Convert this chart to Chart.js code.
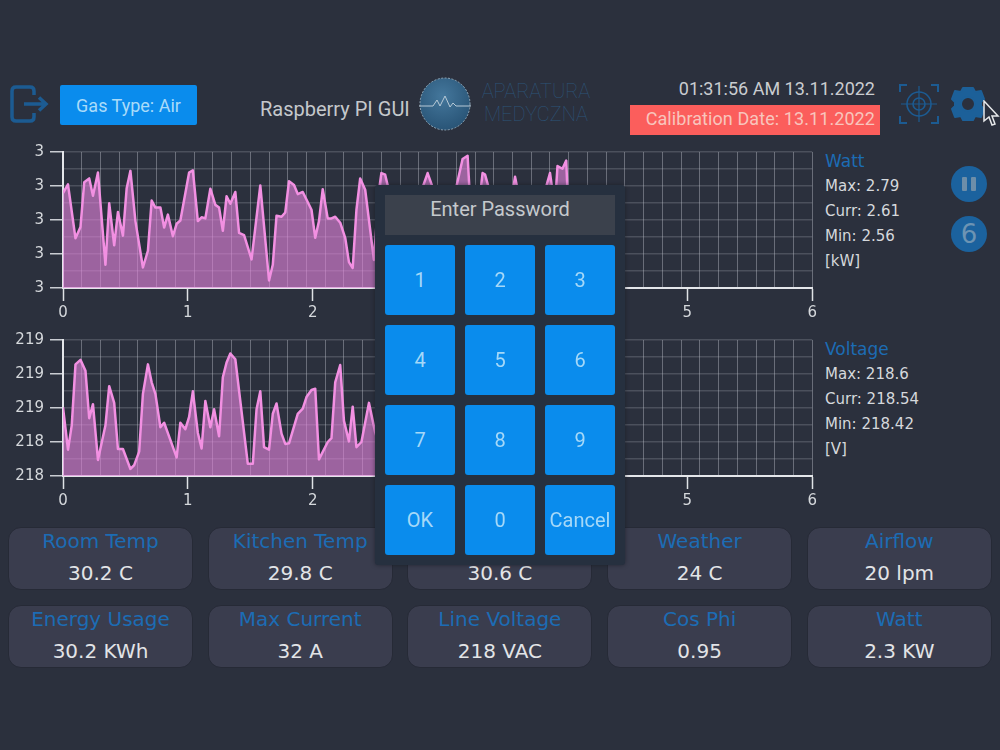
<!DOCTYPE html>
<html>
<head>
<meta charset="utf-8">
<title>Raspberry PI GUI</title>
<script src="https://cdn.jsdelivr.net/npm/chart.js@4"></script>
<style>
html, body { margin: 0; padding: 0; background: #2b303d; }
body { position: relative; width: 1000px; height: 750px; overflow: hidden; font-family: "DejaVu Sans", sans-serif; }
.abs { position: absolute; }
.rb { font-family: Roboto, sans-serif; }
canvas { position: absolute; left: 0; }
.side { position: absolute; left: 825px; font-size: 15px; line-height: 25px; color: #d5d8dc; white-space: pre; }
.side b { display: block; font-weight: normal; font-size: 17px; color: #1c6cb4; }
.card { position: absolute; width: 183px; height: 61px; background: #3a3d4e; border: 1px solid #262a36; border-radius: 13px; text-align: center; }
.card .lbl { position: absolute; left: 0; right: 0; top: 0; font-size: 20px; line-height: 26px; color: #1c6cb4; white-space: nowrap; }
.card .val { position: absolute; left: 0; right: 0; top: 32px; font-size: 20px; line-height: 26px; color: #e2e4e7; white-space: nowrap; }
#modal { position: absolute; left: 375px; top: 185px; width: 250px; height: 380px; background: #26303f; border-radius: 3px; box-shadow: 0 0 4px rgba(20, 24, 32, 0.6); }
#pwd { position: absolute; left: 10px; top: 10px; width: 230px; height: 40px; background: #3b414c; color: #c5c9cd; font: 20px/28px Roboto, sans-serif; text-align: center; }
.key { position: absolute; width: 70px; height: 70px; background: #0a8ced; border-radius: 3px; color: #a5d8f8; font: 20px/70px Roboto, sans-serif; text-align: center; }
</style>
</head>
<body>

<!-- header -->
<svg class="abs" style="left:8px;top:83px" width="42" height="42" viewBox="0 0 42 42" fill="none" stroke="#1c5b92" stroke-width="3.5">
  <path d="M26 12 V8 Q26 4 22 4 H8 Q4 4 4 8 V34 Q4 38 8 38 H22 Q26 38 26 34 V30"/>
  <path d="M16 21 H37 M31 14.5 L38 21 L31 27.5" stroke-width="3.5"/>
</svg>
<div class="abs rb" style="left:60px;top:85px;width:137px;height:40px;background:#0a8ced;border-radius:2px;color:#a9dbf9;font-size:18px;line-height:41px;text-align:center">Gas Type: Air</div>
<div class="abs rb" style="left:260px;top:96px;font-size:20px;line-height:26px;color:#c5c8cc;white-space:nowrap">Raspberry PI GUI</div>
<svg class="abs" style="left:417px;top:75px" width="56" height="58" viewBox="0 0 56 58">
  <defs><radialGradient id="ball" cx="45%" cy="35%" r="70%"><stop offset="0%" stop-color="#44779c"/><stop offset="100%" stop-color="#275274"/></radialGradient></defs>
  <ellipse cx="28" cy="29" rx="25" ry="26" fill="url(#ball)" stroke="#8fa7b8" stroke-width="1" stroke-dasharray="2 1.5"/>
  <path d="M2 31 H16 L20 25 L23 31 L28 21 L33 32 L36 28 L39 31 H54" fill="none" stroke="#b7c9d6" stroke-width="1"/>
</svg>
<div class="abs" style="left:476px;top:80px;width:120px;font-family:Roboto,sans-serif;font-weight:100;font-size:20px;line-height:23px;color:#2c5479;text-align:center">APARATURA<br>MEDYCZNA</div>
<div class="abs rb" style="left:600px;width:275px;top:76px;font-size:18px;line-height:25px;color:#c9ccd0;text-align:right">01:31:56 AM 13.11.2022</div>
<div class="abs rb" style="left:630px;top:105px;width:245px;padding-right:5px;height:30px;background:#fb5e5c;color:#f8c5bd;font-size:18px;line-height:28px;text-align:right;letter-spacing:0.08px">Calibration Date: 13.11.2022</div>
<svg class="abs" style="left:899px;top:84px" width="40" height="40" viewBox="0 0 40 40" fill="none" stroke="#1c5b92" stroke-width="1.6">
  <path d="M1 8 V1 H8 M32 1 H39 V8 M39 32 V39 H32 M8 39 H1 V32" stroke-width="2"/>
  <circle cx="20" cy="20" r="12"/><circle cx="20" cy="20" r="6"/>
  <path d="M20 2 V38 M2 20 H38" stroke-width="1.2"/>
</svg>
<svg class="abs" style="left:950px;top:86px" width="36" height="36" viewBox="0 0 36 36">
  <path fill="#1c6099" fill-rule="evenodd" stroke="#1c6099" stroke-width="2" stroke-linejoin="round" d="M13 2 H23 L25 6 L31 5 L34 13 L31 16 V20 L34 23 L31 31 L25 30 L23 34 H13 L11 30 L5 31 L2 23 L5 20 V16 L2 13 L5 5 L11 6 Z M18 11 A7 7 0 1 0 18 25 A7 7 0 1 0 18 11 Z"/>
</svg>
<svg class="abs" style="left:982px;top:100px;z-index:5" width="18" height="27" viewBox="0 0 18 27">
  <path d="M2 1 V21 L7 17 L10 25 L13 24 L10 16 L16 16 Z" fill="#2b303d" stroke="#e6e8ea" stroke-width="1.5"/>
</svg>
<svg class="abs" style="left:951px;top:166px" width="36" height="36" viewBox="0 0 36 36">
  <circle cx="18" cy="18" r="18" fill="#1b629e"/>
  <rect x="11" y="11" width="5" height="14" rx="1" fill="#6d8ea9"/><rect x="20" y="11" width="5" height="14" rx="1" fill="#6d8ea9"/>
</svg>
<div class="abs" style="left:951px;top:216px;width:36px;height:36px;line-height:36px;border-radius:18px;background:#1b629e;color:#6d94b3;font-size:26px;text-align:center">6</div>

<!-- charts -->
<canvas id="wattChart" style="top:137px" width="820" height="188"></canvas>
<canvas id="voltChart" style="top:325px" width="820" height="188"></canvas>

<div class="side" style="top:149px"><b>Watt</b>Max: 2.79
Curr: 2.61
Min: 2.56
[kW]</div>
<div class="side" style="top:337px"><b>Voltage</b>Max: 218.6
Curr: 218.54
Min: 218.42
[V]</div>

<div id="cards"></div>

<div id="modal">
  <div id="pwd">Enter Password</div>
  <div id="keys"></div>
</div>

<script>
// time axis of the watt trace
const wattTimes = [0, 0.04, 0.1, 0.14, 0.17, 0.21, 0.24, 0.28, 0.34, 0.37, 0.41, 0.44, 0.48, 0.51, 0.54, 0.58, 0.64, 0.68, 0.71, 0.74,
    0.78, 0.81, 0.84, 0.88, 0.91, 0.94, 1.01, 1.04, 1.08, 1.11, 1.14, 1.18, 1.22, 1.25, 1.28, 1.31, 1.34, 1.38, 1.41, 1.45,
    1.51, 1.58, 1.65, 1.68, 1.71, 1.75, 1.78, 1.81, 1.85, 1.88, 1.92, 1.99, 2.02, 2.05, 2.08, 2.12, 2.15, 2.18, 2.22, 2.26,
    2.29, 2.32, 2.35, 2.38, 2.42, 2.49, 2.53, 2.55, 2.58, 2.62, 2.72, 2.87, 2.92, 2.97, 3.06, 3.14, 3.2, 3.24, 3.26, 3.3,
    3.36, 3.38, 3.42, 3.5, 3.59, 3.62, 3.65, 3.74, 3.86, 3.9, 3.92, 3.94, 3.96, 4, 4.03, 4.06];
const wattValues = [2.721, 2.737, 2.637, 2.658, 2.741, 2.748, 2.716, 2.759, 2.588, 2.702, 2.624, 2.686, 2.642, 2.73, 2.762, 2.669, 2.583, 2.614, 2.707, 2.694,
    2.694, 2.657, 2.681, 2.641, 2.664, 2.67, 2.759, 2.763, 2.669, 2.676, 2.674, 2.729, 2.699, 2.694, 2.651, 2.715, 2.701, 2.723, 2.647, 2.643,
    2.598, 2.735, 2.559, 2.588, 2.679, 2.677, 2.685, 2.743, 2.736, 2.719, 2.723, 2.69, 2.638, 2.669, 2.728, 2.674, 2.674, 2.677, 2.666, 2.638,
    2.593, 2.582, 2.69, 2.748, 2.727, 2.597, 2.725, 2.758, 2.755, 2.716, 2.633, 2.725, 2.758, 2.725, 2.648, 2.722, 2.784, 2.79, 2.707, 2.637,
    2.758, 2.755, 2.722, 2.648, 2.707, 2.751, 2.716, 2.633, 2.725, 2.758, 2.725, 2.698, 2.771, 2.766, 2.781, 2.61];

// time axis of the voltage trace
const voltTimes = [0, 0.04, 0.07, 0.1, 0.14, 0.18, 0.21, 0.24, 0.28, 0.34, 0.37, 0.41, 0.44, 0.48, 0.54, 0.57, 0.61, 0.64, 0.68, 0.71,
    0.74, 0.78, 0.81, 0.91, 0.94, 0.98, 1.01, 1.04, 1.08, 1.11, 1.14, 1.18, 1.21, 1.25, 1.28, 1.31, 1.34, 1.38, 1.48, 1.52,
    1.55, 1.58, 1.61, 1.65, 1.68, 1.71, 1.75, 1.78, 1.81, 1.88, 1.92, 1.95, 1.99, 2.02, 2.05, 2.12, 2.15, 2.18, 2.22, 2.25,
    2.29, 2.32, 2.35, 2.39, 2.45, 2.5, 2.56, 2.7, 2.85, 3, 3.2, 3.4, 3.6, 3.8, 3.95, 4.06];
const voltValues = [218.515, 218.449, 218.487, 218.582, 218.589, 218.572, 218.498, 218.52, 218.433, 218.487, 218.548, 218.522, 218.45, 218.45, 218.419, 218.425, 218.446, 218.536, 218.582, 218.554,
    218.536, 218.484, 218.491, 218.437, 218.491, 218.481, 218.5, 218.54, 218.475, 218.451, 218.525, 218.484, 218.512, 218.47, 218.562, 218.585, 218.599, 218.59, 218.427, 218.427,
    218.512, 218.54, 218.453, 218.449, 218.505, 218.521, 218.474, 218.458, 218.459, 218.505, 218.513, 218.531, 218.542, 218.544, 218.434, 218.461, 218.467, 218.554, 218.581, 218.494,
    218.462, 218.516, 218.453, 218.461, 218.522, 218.476, 218.44, 218.55, 218.46, 218.58, 218.45, 218.56, 218.47, 218.57, 218.48, 218.54];

const xLabels = [0, 1, 2, 3, 4, 5, 6];

const cardLabels = ['Room Temp', 'Kitchen Temp', '', 'Weather', 'Airflow', 'Energy Usage', 'Max Current', 'Line Voltage', 'Cos Phi', 'Watt'];
const cardValues = ['30.2 C', '29.8 C', '30.6 C', '24 C', '20 lpm', '30.2 KWh', '32 A', '218 VAC', '0.95', '2.3 KW'];
const keyLabels = ['1', '2', '3', '4', '5', '6', '7', '8', '9', 'OK', '0', 'Cancel'];

const cardBox = document.getElementById('cards');
cardLabels.forEach((label, i) => {
    const card = document.createElement('div');
    card.className = 'card';
    card.style.left = (8 + (i % 5) * 199.7) + 'px';
    card.style.top = (i < 5 ? 527 : 605) + 'px';
    card.innerHTML = `<div class="lbl">${label}</div><div class="val">${cardValues[i]}</div>`;
    cardBox.appendChild(card);
});

const keyBox = document.getElementById('keys');
keyLabels.forEach((label, i) => {
    const key = document.createElement('div');
    key.className = 'key';
    key.style.left = (10 + (i % 3) * 80) + 'px';
    key.style.top = (60 + Math.floor(i / 3) * 80) + 'px';
    key.textContent = label;
    keyBox.appendChild(key);
});

function drawTrace(id, times, values, yMin, yMax, yStep) {
    const canvas = document.getElementById(id);
    return new Chart(canvas.getContext('2d'), {
        type: 'line',
        data: {
            datasets: [{
                data: times.map((t, i) => ({ x: t, y: values[i] })),
                borderColor: '#f290e2',
                borderWidth: 2.5,
                borderJoinStyle: 'round',
                backgroundColor: 'rgba(226, 130, 220, 0.62)',
                fill: 'origin',
                pointRadius: 0,
                tension: 0
            }]
        },
        options: {
            responsive: false,
            animation: false,
            layout: { padding: { top: 11, right: 5, left: 0, bottom: 0 } },
            plugins: { legend: { display: false }, tooltip: { enabled: false } },
            scales: {
                x: {
                    type: 'linear',
                    min: 0,
                    max: 6,
                    afterBuildTicks: (scale) => {
                        // the grid runs every 0.15, the labelled ticks on whole numbers
                        const minor = scale.ticks.filter(t => !Number.isInteger(t.value));
                        scale.ticks = minor.concat(xLabels.map(v => ({ value: v }))).sort((a, b) => a.value - b.value);
                    },
                    afterFit: (axis) => { axis.height = 37; },
                    ticks: {
                        stepSize: 0.15,
                        autoSkip: false,
                        maxRotation: 0,
                        color: '#d5d8dc',
                        padding: 3,
                        font: { family: 'DejaVu Sans', size: 15 },
                        callback: (v) => Number.isInteger(v) ? String(v) : ''
                    },
                    grid: {
                        color: (c) => (c.tick && Number.isInteger(c.tick.value) && c.tick.value % 3 !== 0) ? 'rgba(0,0,0,0)' : 'rgba(190, 195, 205, 0.42)',
                        tickColor: (c) => (c.tick && Number.isInteger(c.tick.value)) ? '#dfe2e6' : 'rgba(0,0,0,0)',
                        tickLength: 13,
                        tickWidth: 1.5,
                        lineWidth: 1
                    },
                    border: { color: '#e4e6ea', width: 2 }
                },
                y: {
                    min: yMin,
                    max: yMax,
                    afterFit: (axis) => { axis.width = 63; },
                    ticks: {
                        stepSize: yStep,
                        autoSkip: false,
                        color: '#d5d8dc',
                        padding: 6,
                        font: { family: 'DejaVu Sans', size: 15 },
                        callback: (v, i) => i % 2 === 0 ? v.toFixed(0) : ''
                    },
                    grid: {
                        color: 'rgba(190, 195, 205, 0.22)',
                        tickColor: (c) => c.index % 2 === 0 ? '#c9ccd2' : 'rgba(0,0,0,0)',
                        tickLength: 13,
                        tickWidth: 1.5,
                        lineWidth: 1.5
                    },
                    border: { color: '#e4e6ea', width: 2 }
                }
            }
        }
    });
}

drawTrace('wattChart', wattTimes, wattValues, 2.545, 2.797, 0.0315);
drawTrace('voltChart', voltTimes, voltValues, 218.408, 218.62, 0.0265);
</script>
</body>
</html>
